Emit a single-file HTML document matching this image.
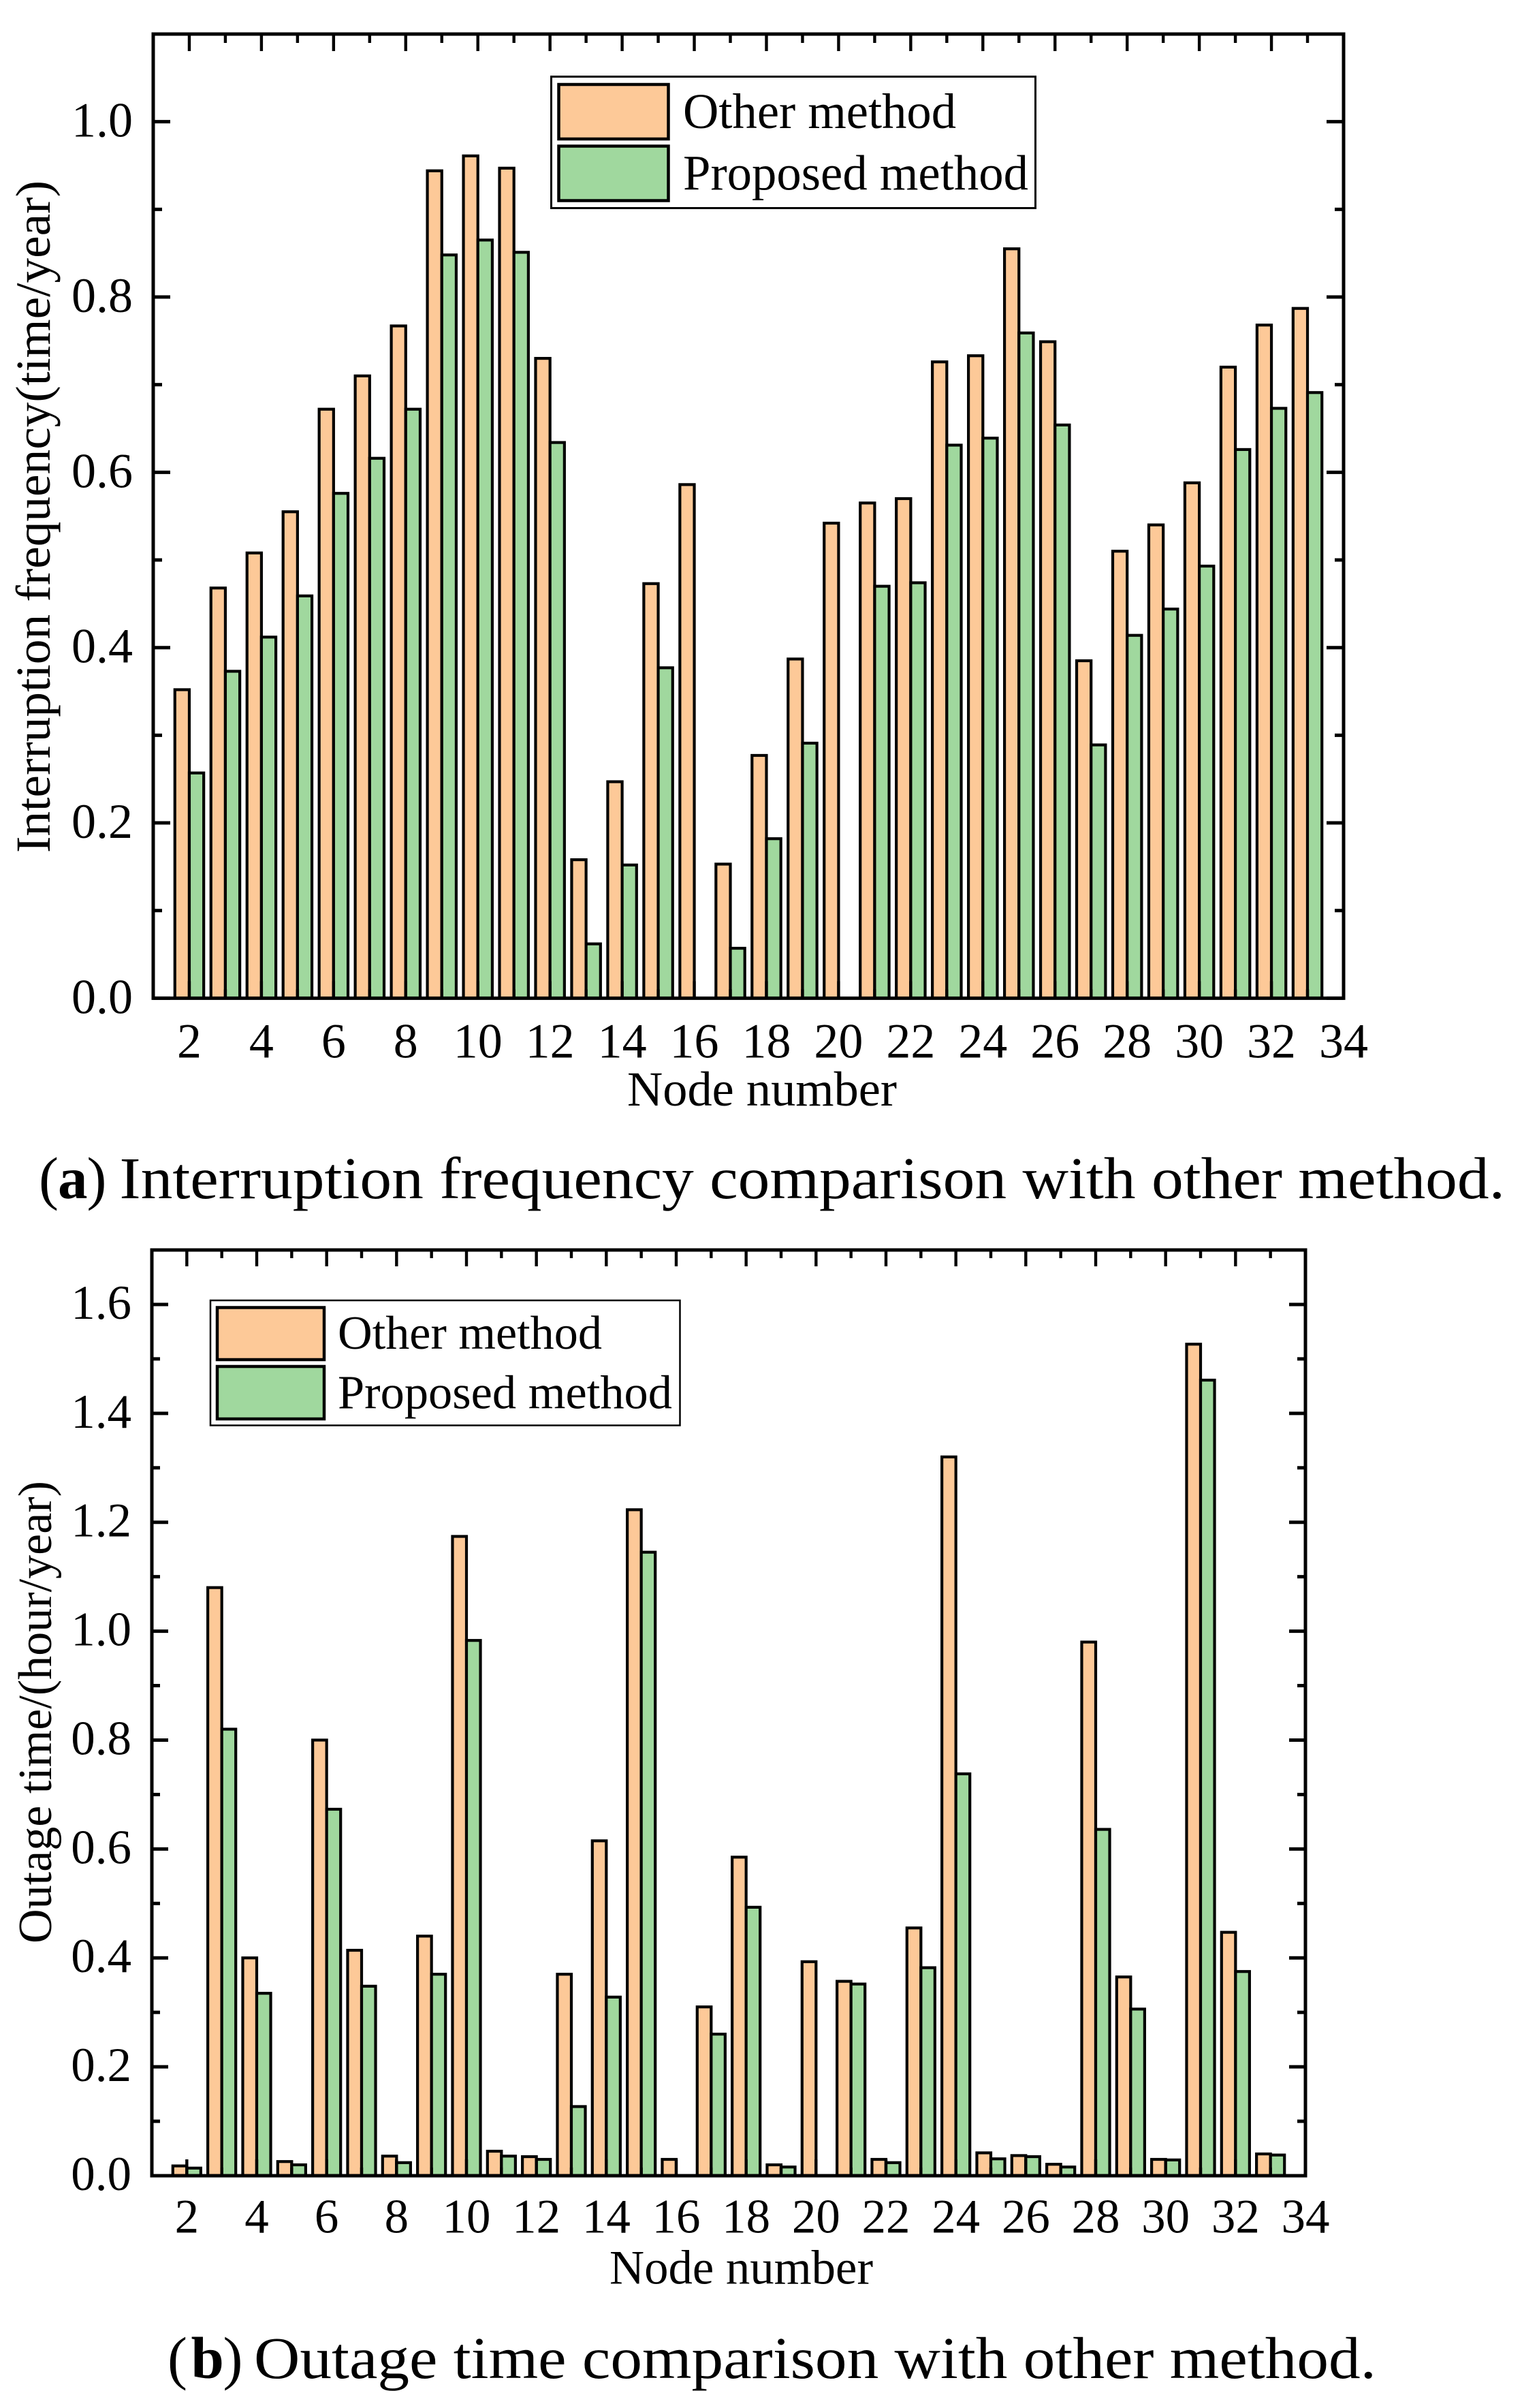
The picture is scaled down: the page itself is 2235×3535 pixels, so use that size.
<!DOCTYPE html>
<html lang="en">
<head>
<meta charset="utf-8">
<title>Interruption frequency and outage time comparison</title>
<style>
html,body{margin:0;padding:0;background:#fff}
svg{display:block}
text{font-family:"Liberation Serif",serif;fill:#000}
</style>
</head>
<body>
<svg id="figure" xmlns="http://www.w3.org/2000/svg" width="2235" height="3535" viewBox="0 0 2235 3535">
  <rect width="2235" height="3535" fill="#fff"/>
  <g id="chart-a"></g>
  <g id="chart-b"></g>

  <text transform="translate(73,1252) rotate(-90)" font-size="72" textLength="987" lengthAdjust="spacingAndGlyphs">Interruption frequency(time/year)</text>
  <text x="921" y="1623" font-size="72" textLength="396" lengthAdjust="spacingAndGlyphs">Node number</text>
  <g>
    <rect x="809.5" y="112.5" width="711" height="193" fill="#fff" stroke="#000" stroke-width="3"/>
    <rect x="820.5" y="124" width="161" height="80" fill="#FDC998" stroke="#000" stroke-width="4.5"/>
    <rect x="820.5" y="214.5" width="161" height="80" fill="#A0D89E" stroke="#000" stroke-width="4.5"/>
    <text x="1003" y="188" font-size="73" textLength="401" lengthAdjust="spacingAndGlyphs">Other method</text>
    <text x="1003" y="278.5" font-size="73" textLength="507" lengthAdjust="spacingAndGlyphs">Proposed method</text>
  </g>
  <g font-size="87">
    <text x="57" y="1759">(</text>
    <text x="85" y="1759" font-weight="bold">a</text>
    <text x="127.5" y="1759">)</text>
    <text x="175.5" y="1759" textLength="2034.5" lengthAdjust="spacingAndGlyphs">Interruption frequency comparison with other method.</text>
  </g>

  <text transform="translate(75,2853) rotate(-90)" font-size="70" textLength="679" lengthAdjust="spacingAndGlyphs">Outage time/(hour/year)</text>
  <text x="895" y="3352.5" font-size="71" textLength="387" lengthAdjust="spacingAndGlyphs">Node number</text>
  <g>
    <rect x="309" y="1909" width="689.5" height="183.5" fill="#fff" stroke="#000" stroke-width="2.5"/>
    <rect x="319" y="1919.5" width="157" height="76.5" fill="#FDC998" stroke="#000" stroke-width="4.5"/>
    <rect x="319" y="2006" width="157" height="77" fill="#A0D89E" stroke="#000" stroke-width="4.5"/>
    <text x="496" y="1980" font-size="70" textLength="388" lengthAdjust="spacingAndGlyphs">Other method</text>
    <text x="496" y="2067.5" font-size="70" textLength="491" lengthAdjust="spacingAndGlyphs">Proposed method</text>
  </g>
  <g font-size="87">
    <text x="246" y="3491">(</text>
    <text x="280.5" y="3491" font-weight="bold">b</text>
    <text x="327.5" y="3491">)</text>
    <text x="373" y="3491" textLength="1648" lengthAdjust="spacingAndGlyphs">Outage time comparison with other method.</text>
  </g>
</svg>
<script>
var nodes = [2,3,4,5,6,7,8,9,10,11,12,13,14,15,16,17,18,19,20,21,22,23,24,25,26,27,28,29,30,31,32,33];
var xTickLabels = ["2","4","6","8","10","12","14","16","18","20","22","24","26","28","30","32","34"];

var freqOther = [0.352,0.468,0.508,0.555,0.672,0.710,0.767,0.944,0.961,0.947,0.730,0.158,0.247,0.473,0.586,0.153,0.277,0.387,0.542,0.565,0.570,0.726,0.733,0.855,0.749,0.385,0.510,0.540,0.588,0.720,0.768,0.787];
var freqProposed = [0.257,0.373,0.412,0.459,0.576,0.616,0.672,0.848,0.865,0.851,0.634,0.062,0.152,0.377,0,0.057,0.182,0.291,0,0.470,0.474,0.631,0.639,0.759,0.654,0.289,0.414,0.444,0.493,0.626,0.673,0.691];
var freqYTickLabels = ["0.0","0.2","0.4","0.6","0.8","1.0"];

var outageOther = [0.018,1.080,0.400,0.026,0.800,0.414,0.036,0.440,1.174,0.045,0.035,0.370,0.615,1.223,0.030,0.310,0.585,0.020,0.393,0.357,0.030,0.455,1.320,0.042,0.037,0.021,0.980,0.365,0.030,1.527,0.447,0.040];
var outageProposed = [0.014,0.820,0.335,0.020,0.673,0.348,0.024,0.370,0.983,0.036,0.030,0.127,0.328,1.145,0,0.260,0.493,0.016,0,0.352,0.024,0.382,0.738,0.031,0.035,0.016,0.636,0.306,0.029,1.461,0.375,0.038];
var outageYTickLabels = ["0.0","0.2","0.4","0.6","0.8","1.0","1.2","1.4","1.6"];

var SVG_NS = "http://www.w3.org/2000/svg";

function make(parent, tag, attrs) {
  var el = document.createElementNS(SVG_NS, tag);
  for (var k in attrs) el.setAttribute(k, attrs[k]);
  parent.appendChild(el);
  return el;
}

function drawChart(cfg) {
  var root = document.getElementById(cfg.id);
  var xScale = function (v) { return cfg.left + (v - 1) * (cfg.right - cfg.left) / 33; };
  var yScale = function (v) { return cfg.bottom - (v / cfg.yMax) * (cfg.bottom - cfg.top); };
  var barW = (cfg.right - cfg.left) / 33 * 0.4;

  nodes.forEach(function (n, i) {
    var x = xScale(n);
    var yo = yScale(cfg.other[i]);
    var yp = yScale(cfg.proposed[i]);
    var o = make(root, "rect", {x: x - barW, y: yo, width: barW, height: cfg.bottom - yo, fill: "#FDC998", stroke: "#000", "stroke-width": 4.2});
    
    
    var p = make(root, "rect", {x: x, y: yp, width: barW, height: cfg.bottom - yp, fill: "#A0D89E", stroke: "#000", "stroke-width": 4.2});
    
    
  });

  for (var t = 2; t <= 34; t++) {
    var major = t % 2 === 0;
    var len = major ? cfg.majorLen : cfg.minorLen;
    var tx = xScale(t);
    [[cfg.top, cfg.top + len], [cfg.bottom, cfg.bottom - len]].forEach(function (s) {
      var tick = make(root, "line", {x1: tx, x2: tx, y1: s[0], y2: s[1], stroke: "#000", "stroke-width": 4.4});
      
      
    });
  }

  var yMajors = cfg.yTicks.map(parseFloat);
  yMajors.forEach(function (v, idx) {
    var ty = yScale(v);
    [v, v + 0.1].forEach(function (w, j) {
      if (w > cfg.yMax) return;
      var yy = yScale(w);
      var l = j === 0 ? cfg.majorLen : cfg.minorLen;
      [[cfg.left, cfg.left + l], [cfg.right, cfg.right - l]].forEach(function (s) {
        var tick = make(root, "line", {x1: s[0], x2: s[1], y1: yy, y2: yy, stroke: "#000", "stroke-width": 5});
        
        
      });
    });
    var lab = make(root, "text", {x: cfg.yLabelX, y: ty + cfg.yLabelDy, "font-size": cfg.fontSize, "text-anchor": "end"});
    
    
    lab.textContent = cfg.yTicks[idx];
  });

  xTickLabels.forEach(function (s) {
    var lab = make(root, "text", {x: xScale(parseFloat(s)), y: cfg.xLabelY, "font-size": cfg.fontSize, "text-anchor": "middle"});
    
    
    lab.textContent = s;
  });

  var frame = make(root, "rect", {x: cfg.left, y: cfg.top, width: cfg.right - cfg.left, height: cfg.bottom - cfg.top, fill: "none", stroke: "#000", "stroke-width": 5});
  
  
}

drawChart({id: "chart-a", left: 225, right: 1973, top: 50, bottom: 1465.4, yMax: 1.1, other: freqOther, proposed: freqProposed, yTicks: freqYTickLabels, majorLen: 25, minorLen: 13, yLabelX: 195, yLabelDy: 22, xLabelY: 1552.5, fontSize: 72});
drawChart({id: "chart-b", left: 223, right: 1917, top: 1835, bottom: 3194, yMax: 1.7, other: outageOther, proposed: outageProposed, yTicks: outageYTickLabels, majorLen: 24, minorLen: 12, yLabelX: 193, yLabelDy: 21, xLabelY: 3277.5, fontSize: 71});
</script>
</body>
</html>
